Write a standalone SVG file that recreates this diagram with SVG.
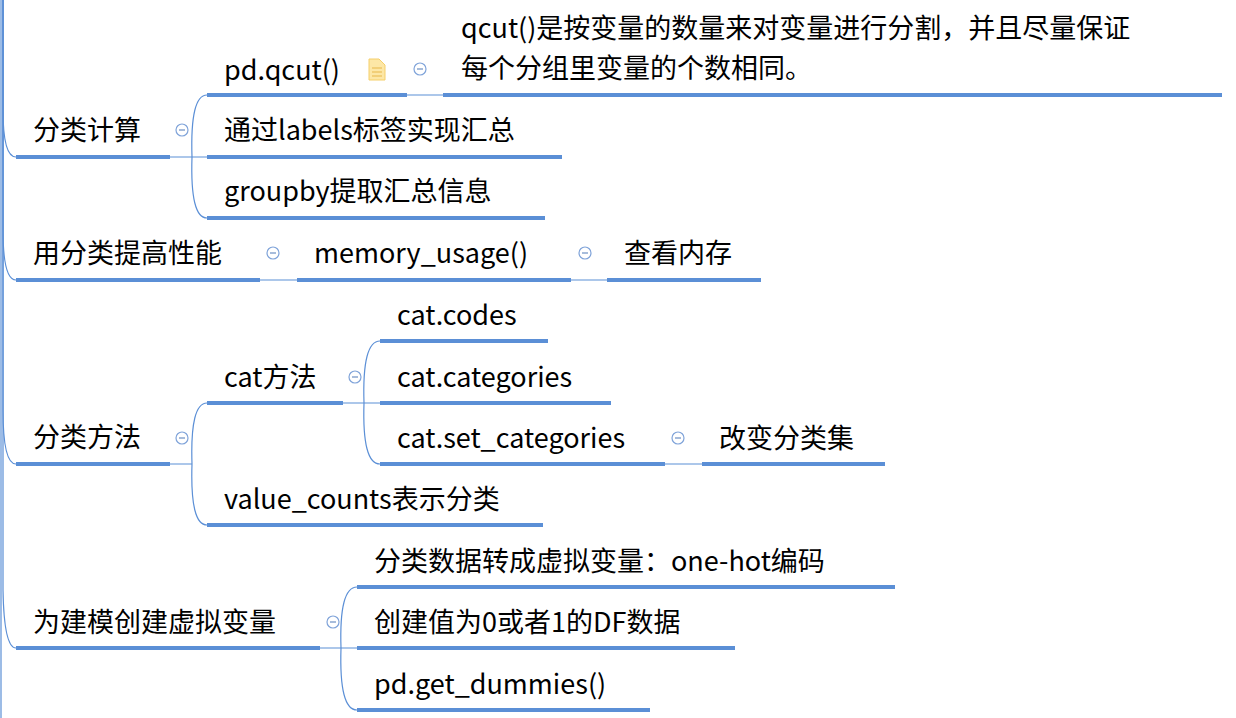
<svg xmlns="http://www.w3.org/2000/svg" width="1236" height="718" viewBox="0 0 1236 718">
<style>
text{font-family:"Noto Sans CJK SC","Noto Sans",sans-serif;font-size:27px;fill:#000}
.u{stroke:#5b8fd6;stroke-width:4;fill:none}
.c{stroke:#5b8fd6;stroke-width:1.2;fill:none}
.t{fill:#fff;stroke:#7fa3d9;stroke-width:1.2}
.m{stroke:#8aa6cf;stroke-width:1.5}
</style>
<rect width="1236" height="718" fill="#fff"/>
<g id="connectors">
<path class="c" d="M1,0 V718"/>
<path class="c" d="M3,0 V110 Q3,157 16,157"/>
<path class="c" d="M3,0 V230 Q3,280 16,280"/>
<path class="c" d="M3,0 V410 Q3,464 16,464"/>
<path class="c" d="M3,0 V590 Q4,648 16,648"/>
<path class="c" d="M170,157 H192 M192,157 Q190,95 207,95 M192,157 H207 M192,157 Q190,218 207,218"/>
<path class="c" d="M407,95 H443" stroke="#a9c3e8" stroke-width="2"/>
<path class="c" d="M260,280 H297 M571,280 H607"/>
<path class="c" d="M170,464 H192 M192,464 Q190,403 207,403 M192,464 Q190,525 207,525"/>
<path class="c" d="M343,403 H364 M364,403 Q362,341 380,341 M364,403 H380 M364,403 Q362,464 380,464"/>
<path class="c" d="M665,464 H702"/>
<path class="c" d="M320,648 H341 M341,648 Q339,587 357,587 M341,648 H357 M341,648 Q339,710 357,710"/>
</g>
<defs>
<g id="tog"><circle r="6" class="t"/><line x1="-3" x2="3" class="m"/></g>
</defs>
<g id="n1"><text x="33" y="140">分类计算</text><path class="u" d="M16,157 H170"/><use href="#tog" x="182" y="130"/></g>
<g id="n1a"><text x="224" y="80">pd.qcut()</text><path class="u" d="M207,95 H407"/>
<path d="M369,59 h10 l6,6 v15 h-16 z" fill="#fde7a6" stroke="#f5cf6a"/><path d="M372,68 h10 M372,72 h10 M372,76 h10" stroke="#e8b84a" stroke-width="1.2"/>
<use href="#tog" x="420" y="69"/></g>
<g id="n1a1"><text x="461" y="38">qcut()是按变量的数量来对变量进行分割，并且尽量保证</text><text x="461" y="78">每个分组里变量的个数相同。</text><path class="u" d="M443,95 H1222"/></g>
<g id="n1b"><text x="224" y="140">通过labels标签实现汇总</text><path class="u" d="M207,157 H562"/></g>
<g id="n1c"><text x="224" y="201">groupby提取汇总信息</text><path class="u" d="M207,218 H545"/></g>
<g id="n2"><text x="33" y="263">用分类提高性能</text><path class="u" d="M16,280 H260"/><use href="#tog" x="273" y="253"/></g>
<g id="n2a"><text x="314" y="263">memory_usage()</text><path class="u" d="M297,280 H571"/><use href="#tog" x="585" y="253"/></g>
<g id="n2a1"><text x="624" y="263">查看内存</text><path class="u" d="M607,280 H761"/></g>
<g id="n3"><text x="33" y="447">分类方法</text><path class="u" d="M16,464 H170"/><use href="#tog" x="182" y="438"/></g>
<g id="n3a"><text x="224" y="387">cat方法</text><path class="u" d="M207,403 H343"/><use href="#tog" x="355" y="377"/></g>
<g id="n3a1"><text x="397" y="325">cat.codes</text><path class="u" d="M380,341 H548"/></g>
<g id="n3a2"><text x="397" y="387">cat.categories</text><path class="u" d="M380,403 H611"/></g>
<g id="n3a3"><text x="397" y="448">cat.set_categories</text><path class="u" d="M380,464 H665"/><use href="#tog" x="678" y="438"/></g>
<g id="n3a3a"><text x="719" y="448">改变分类集</text><path class="u" d="M702,464 H885"/></g>
<g id="n3b"><text x="224" y="509">value_counts表示分类</text><path class="u" d="M207,525 H543"/></g>
<g id="n4"><text x="33" y="632">为建模创建虚拟变量</text><path class="u" d="M16,648 H320"/><use href="#tog" x="333" y="622"/></g>
<g id="n4a"><text x="374" y="571">分类数据转成虚拟变量：one-hot编码</text><path class="u" d="M357,587 H895"/></g>
<g id="n4b"><text x="374" y="632">创建值为0或者1的DF数据</text><path class="u" d="M357,648 H735"/></g>
<g id="n4c"><text x="374" y="694">pd.get_dummies()</text><path class="u" d="M357,710 H650"/></g>
</svg>
